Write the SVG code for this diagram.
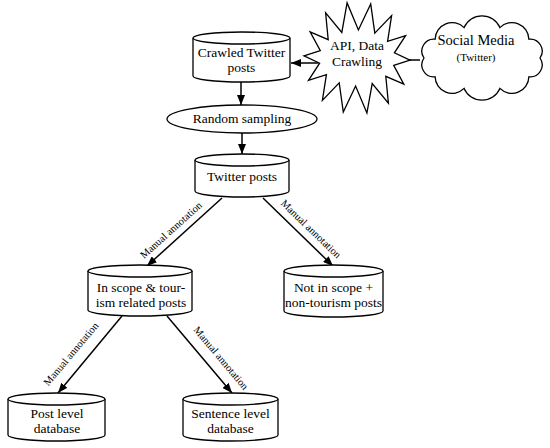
<svg xmlns="http://www.w3.org/2000/svg" width="550" height="448" viewBox="0 0 550 448" font-family="'Liberation Serif', 'DejaVu Serif', serif">
<defs>
<marker id="ah" viewBox="0 0 10 8" refX="10" refY="4" markerWidth="10" markerHeight="8" markerUnits="userSpaceOnUse" orient="auto">
<path d="M0,0 L10,4 L0,8 Z" fill="#000"/>
</marker>
</defs>
<style>
.s{fill:#fff;stroke:#000;stroke-width:1.3}
text{font-family:'Liberation Serif','DejaVu Serif',serif}
.t{font-size:13.5px;fill:#000;text-anchor:middle}
.l{font-size:10.5px;fill:#000;text-anchor:middle}
.c{stroke:#000;stroke-width:1.5;fill:none;marker-end:url(#ah)}
</style>
<rect width="550" height="448" fill="#fff"/>
<g id="connectors">
<line class="c" x1="318" y1="63" x2="291" y2="63"/>
<line class="c" x1="420" y1="60" x2="386" y2="60"/>
<line class="c" x1="241" y1="82" x2="241" y2="105"/>
<line class="c" x1="242" y1="133" x2="242" y2="154"/>
<line class="c" x1="222" y1="198" x2="147" y2="266"/>
<line class="c" x1="263" y1="198" x2="333" y2="266"/>
<line class="c" x1="122" y1="316" x2="58" y2="393"/>
<line class="c" x1="167" y1="316" x2="232" y2="393"/>
<text class="l" transform="translate(171,230) rotate(-42)" x="0" y="3.5">Manual annotation</text>
<text class="l" transform="translate(311,229) rotate(44)" x="0" y="3.5">Manual annotation</text>
<text class="l" transform="translate(71,354) rotate(-50)" x="0" y="3.5">Manual annotation</text>
<text class="l" transform="translate(221,358) rotate(50)" x="0" y="3.5">Manual annotation</text>
</g>
<g id="crawled">
<path class="s" d="M193,38 A48.5,6 0 0 1 290,38 L290,76 A48.5,6 0 0 1 193,76 Z"/>
<path class="s" d="M193,38 A48.5,6 0 0 0 290,38" fill="none"/>
<text class="t" x="241.5" y="57">Crawled Twitter</text>
<text class="t" x="241.5" y="72">posts</text>
</g>
<g id="api">
<polygon class="s" points="370.7,3.9 374.8,33.2 391.6,15.6 387.6,41.4 405.6,35.6 394.4,52.8 410,60.1 393.7,65.3 403.8,84.2 385.8,76.3 388.4,103.1 372.2,83.6 366.9,113 355.6,86 343.3,112.1 339.2,82.8 322.4,100.4 326.4,74.6 308.5,80.4 319.6,63.2 304,55.9 320.3,50.7 310.1,31.8 328.2,39.7 325.6,12.9 341.8,32.4 347.1,2.9 358.4,30"/>
<text class="t" x="357" y="50">API, Data</text>
<text class="t" x="357" y="66">Crawling</text>
</g>
<g id="social">
<path class="s" d="M540,58 A12,12 0 0 1 528.9,76.8 A17,17 0 0 1 499.9,88.4 A19.5,19.5 0 0 1 464.1,88.4 A17,17 0 0 1 435.1,76.8 A12,12 0 0 1 424,58 A12,12 0 0 1 435.1,39.2 A17,17 0 0 1 464.1,27.6 A19.5,19.5 0 0 1 499.9,27.6 A17,17 0 0 1 528.9,39.2 A12,12 0 0 1 540,58 Z"/>
<text class="t" x="476" y="45" style="font-size:14.5px">Social Media</text>
<text class="t" x="476" y="61" style="font-size:11px">(Twitter)</text>
</g>
<g id="random">
<ellipse class="s" cx="242" cy="119" rx="75" ry="14"/>
<text class="t" x="242" y="123">Random sampling</text>
</g>
<g id="twitter">
<path class="s" d="M195,160 A47,6 0 0 1 289,160 L289,191 A47,6 0 0 1 195,191 Z"/>
<path class="s" d="M195,160 A47,6 0 0 0 289,160" fill="none"/>
<text class="t" x="242" y="181">Twitter posts</text>
</g>
<g id="inscope">
<path class="s" d="M88,271 A52,6 0 0 1 192,271 L192,310 A52,6 0 0 1 88,310 Z"/>
<path class="s" d="M88,271 A52,6 0 0 0 192,271" fill="none"/>
<text class="t" x="141" y="292">In scope &amp; tour-</text>
<text class="t" x="141" y="307">ism related posts</text>
</g>
<g id="notinscope">
<path class="s" d="M284,271 A49.5,6 0 0 1 383,271 L383,311 A49.5,6 0 0 1 284,311 Z"/>
<path class="s" d="M284,271 A49.5,6 0 0 0 383,271" fill="none"/>
<text class="t" x="333.5" y="292">Not in scope +</text>
<text class="t" x="333.5" y="307">non-tourism posts</text>
</g>
<g id="postlevel">
<path class="s" d="M8,399 A48.5,6 0 0 1 105,399 L105,435 A48.5,6 0 0 1 8,435 Z"/>
<path class="s" d="M8,399 A48.5,6 0 0 0 105,399" fill="none"/>
<text class="t" x="57" y="418">Post level</text>
<text class="t" x="57" y="433">database</text>
</g>
<g id="sentencelevel">
<path class="s" d="M183,399 A47.5,6 0 0 1 278,399 L278,435 A47.5,6 0 0 1 183,435 Z"/>
<path class="s" d="M183,399 A47.5,6 0 0 0 278,399" fill="none"/>
<text class="t" x="230.5" y="418">Sentence level</text>
<text class="t" x="230.5" y="433">database</text>
</g>
</svg>
